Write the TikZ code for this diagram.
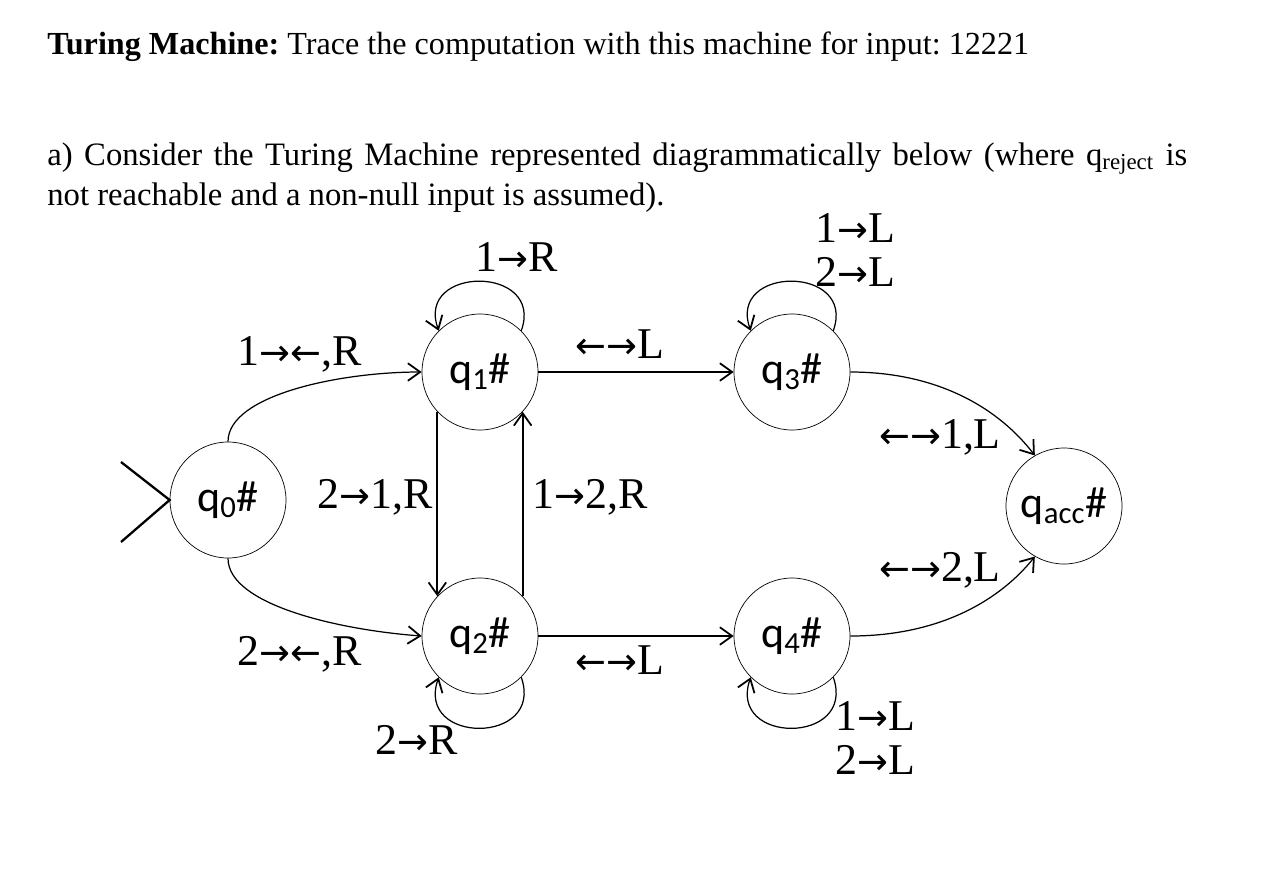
\documentclass[tikz,border=0pt]{standalone}
\usepackage{fontspec}
\setmainfont{Liberation Serif}
\newfontfamily\hdfont{Liberation Serif}
\newfontfamily\nodefont{Carlito}
\newfontfamily\arrfont{DejaVu Sans}
\usetikzlibrary{arrows.meta}
\newcommand{\rar}{{\arrfont\fontsize{21}{24}\selectfont →}}
\newcommand{\lar}{{\arrfont\fontsize{21}{24}\selectfont ←}}
\begin{document}
\frenchspacing
\begin{tikzpicture}[x=0.02cm,y=-0.02cm,
  st/.style={circle,draw,line width=0.4pt,minimum size=116*0.02cm,inner sep=0pt,font=\nodefont\fontsize{25}{28}\selectfont},
  lab/.style={font=\fontsize{25}{28}\selectfont,inner sep=0pt},
  tip/.style={-{Straight Barb[length=7pt,width=10pt,line width=1pt]}},
  thick2/.style={line width=1.3pt},
  thin1/.style={line width=0.7pt}]
\useasboundingbox (0,0) rectangle (1283,886);
\node[anchor=west,inner sep=0pt,font=\hdfont\fontsize{18.3}{22}\selectfont] (title) at (47,47) {\textbf{Turing Machine:} Trace the computation with this machine for input: 12221};
\node[anchor=north west,inner sep=0pt,text width=1140*0.02cm,align=justify,font=\hdfont\fontsize{18.6}{23}\selectfont] (para) at (47,142) {a) Consider the Turing Machine represented diagrammatically below (where q\textsubscript{reject} is\linebreak not reachable and a non-null input is assumed).};
\node[st] (q0) at (228,500) {q\textsubscript{0}\#};
\node[st] (q1) at (480,372) {q\textsubscript{1}\#};
\node[st] (q2) at (480,636) {q\textsubscript{2}\#};
\node[st] (q3) at (792,372) {q\textsubscript{3}\#};
\node[st] (q4) at (792,636) {q\textsubscript{4}\#};
\node[st] (qa) at (1064,506) {q\textsubscript{acc}\#};
\coordinate (s1) at (121,462);\coordinate (s2) at (121,542);
\draw[thick2] (s1) -- (q0.west) -- (s2);
\draw[thin1,tip] (q0.north) .. controls (228,395) and (340,372) .. (q1.west);
\draw[thin1,tip] (q0.south) .. controls (228,605) and (340,630) .. (q2.west);
\draw[thin1,tip] (q1.45) .. controls (545,265) and (415,265) .. (q1.135);
\draw[thin1,tip] (q2.-45) .. controls (545,745) and (415,745) .. (q2.-135);
\draw[thin1,tip] (q3.45) .. controls (857,265) and (727,265) .. (q3.135);
\draw[thin1,tip] (q4.-45) .. controls (857,745) and (727,745) .. (q4.-135);
\draw[thick2,tip] (q1.east) -- (q3.west);
\draw[thick2,tip] (q2.east) -- (q4.west);
\draw[thick2,tip] (q1.-137) -- (q2.137);
\draw[thick2,tip] (q2.43) -- (q1.-43);
\draw[thin1,tip] (q3.east) .. controls (940,372) and (1000,410) .. (qa.120);
\draw[thin1,tip] (q4.east) .. controls (940,636) and (1000,600) .. (qa.-120);
\node[lab] (l1) at (517,257) {1\rar R};
\node[lab] (l2) at (300,354) {1\rar\lar,R};
\node[lab] (l3) at (300,654) {2\rar\lar,R};
\node[lab] (l4) at (417,740) {2\rar R};
\node[lab] (l5) at (620,344) {\lar\rar L};
\node[lab] (l6) at (620,660) {\lar\rar L};
\node[lab] (l7) at (375,497) {2\rar 1,R};
\node[lab] (l8) at (590,497) {1\rar 2,R};
\node[lab,align=center] (l9) at (855,250) {1\rar L\\[-3pt]2\rar L};
\node[lab,align=center] (l10) at (875,738) {1\rar L\\[-3pt]2\rar L};
\node[lab] (l11) at (940,437) {\lar\rar 1,L};
\node[lab] (l12) at (940,570) {\lar\rar 2,L};
\end{tikzpicture}
\end{document}
